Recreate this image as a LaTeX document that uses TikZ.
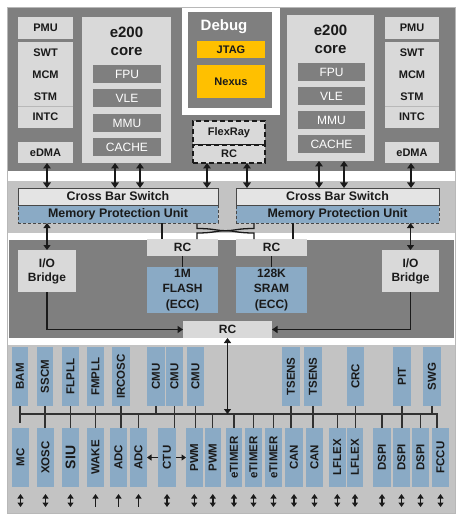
\documentclass[tikz,border=0pt]{standalone}
\usepackage{fontspec}
\setmainfont{Liberation Sans}
\usetikzlibrary{arrows.meta}
\definecolor{dk}{HTML}{7F7F7F}
\definecolor{lt}{HTML}{D9D9D9}
\definecolor{band}{HTML}{C3C3C3}
\definecolor{blu}{HTML}{8AAAC5}
\definecolor{yel}{HTML}{FFC000}
\definecolor{ink}{HTML}{1A1A1A}
\definecolor{frm}{HTML}{B8B8B8}
\tikzset{
 bxbase/.style={inner sep=0pt, outer sep=0pt, align=center, text=ink, font=\bfseries\fontsize{11}{13}\selectfont},
 lbox/.style={bxbase, fill=lt},
 dbox/.style={bxbase, fill=dk, text=white, font=\fontsize{12}{13}\selectfont},
 ybox/.style={bxbase, fill=yel},
 bbox/.style={bxbase, fill=blu},
 memtxt/.style={font=\bfseries\fontsize{12}{15.5}\selectfont},
 iotxt/.style={font=\bfseries\fontsize{12}{14}\selectfont},
 xbox/.style={bxbase, fill=lt!70!white, draw=ink!80, line width=0.8pt, font=\bfseries\fontsize{12.4}{14}\selectfont},
 mpubox/.style={bxbase, fill=blu, draw=ink!80, line width=0.8pt, dash pattern=on 3pt off 2pt, font=\bfseries\fontsize{12.4}{14}\selectfont},
 fxbox/.style={bxbase, fill=lt, draw=ink, line width=1.5pt, dash pattern=on 5pt off 3pt},
 txt/.style={bxbase},
 vtxt/.style={inner sep=0pt, rotate=90, text=ink, font=\bfseries\fontsize{11.5}{13}\selectfont},
 bigarr/.style={draw=ink, line width=2pt, {Triangle[width=7.5pt,length=5.5pt]}-{Triangle[width=7.5pt,length=5.5pt]}},
 midarr/.style={draw=ink, line width=1.7pt, {Triangle[width=7pt,length=5pt]}-{Triangle[width=7pt,length=5pt]}},
 ln/.style={draw=ink, line width=1.3pt},
 arrw/.style={draw=ink, line width=1.4pt, -{Triangle[width=7pt,length=5.5pt]}},
 smarr/.style={draw=ink, line width=1.3pt, -{Triangle[width=6pt,length=4.5pt]}},
 vtick/.style={draw=ink!90, line width=1.3pt},
 busln/.style={draw=ink!90, line width=1.8pt},
 ioarr/.style={draw=ink, line width=1.5pt, >={Triangle[width=6pt,length=4.5pt]}},
}
% \bx{style}{name}{x1}{y1}{x2}{y2}{text}
\newcommand{\bx}[7]{\node[#1, minimum width=#5-#3, minimum height=#6-#4] (#2) at ({(#3+#5)/2},{(#4+#6)/2}) {#7};}
\newcommand{\topbox}[4]{\bx{bbox}{#1}{#2}{347}{#3}{406}{}
  \node[vtxt] (#1-t) at (#1.center) {#4};}
\newcommand{\botbox}[5]{\bx{bbox}{#1}{#2}{428}{#3}{487}{}
  \node[vtxt,#5] (#1-t) at (#1.center) {#4};}
\newcommand{\ioboth}[1]{\coordinate (#1-a) at ([yshift=-7pt]#1.south);
  \coordinate (#1-b) at ([yshift=-20pt]#1.south);
  \draw[ioarr,<->] (#1-a) -- (#1-b);}
\newcommand{\ioup}[1]{\coordinate (#1-a) at ([yshift=-7pt]#1.south);
  \coordinate (#1-b) at ([yshift=-20pt]#1.south);
  \draw[ioarr,<-] (#1-a) -- (#1-b);}
\newcommand{\thrubus}[2]{\draw[vtick] (#1.south) -- (#1.south |- #2.north);}
\newcommand{\upbus}[1]{\draw[vtick] (#1.south) -- (#1.south |- busL);}
\newcommand{\dnbus}[1]{\draw[vtick] (#1.north) -- (#1.north |- busL);}
\begin{document}
\begin{tikzpicture}[x=1pt,y=-1pt]
\useasboundingbox (0,0) rectangle (465,521);
\fill[white] (0,0) rectangle (465,521);
% bands
\fill[dk] (7,7) rectangle (455,171);
\fill[white] (182,6) rectangle (280,115);
\fill[band] (7,181) rectangle (455,233);
\fill[dk] (9,240) rectangle (454,338);
\fill[band] (7,345) rectangle (455,513);
\draw[frm, line width=0.8pt] (7,7) rectangle (455,513);

% Debug
\bx{bxbase, fill=dk}{debug}{188}{12}{272}{108}{}
\node[bxbase, text=white, font=\bfseries\fontsize{15}{17}\selectfont] (debugT) at (224,27) {Debug};
\bx{ybox}{jtag}{197}{41}{265}{58}{JTAG}
\bx{ybox}{nexus}{197}{65}{265}{98}{Nexus}

% FlexRay
\bx{fxbox}{flex}{193}{121}{265}{145}{FlexRay}
\bx{fxbox}{rcF}{193}{145}{265}{163}{RC}

% left column
\bx{lbox}{pmuL}{18}{17}{73}{39}{PMU}
\bx{lbox}{grpL}{18}{42}{73}{128}{}
\draw[draw=lt!85!black, line width=0.6pt] (grpL.west |- 0,106) -- (grpL.east |- 0,106);
\node[txt] (swtL) at (45.5,53) {SWT};
\node[txt] (mcmL) at (45.5,75) {MCM};
\node[txt] (stmL) at (45.5,97) {STM};
\node[txt] (intcL) at (45.5,117) {INTC};
\bx{lbox}{edmaL}{18}{142}{73}{163}{eDMA}

\bx{lbox}{coreL}{82}{17}{171}{163}{}
\node[txt, font=\bfseries\fontsize{15}{18}\selectfont] (coreLt) at (126.5,41) {e200\\core};
\bx{dbox}{fpuL}{93}{65}{161}{83}{FPU}
\bx{dbox}{vleL}{93}{89}{161}{107}{VLE}
\bx{dbox}{mmuL}{93}{114}{161}{132}{MMU}
\bx{dbox}{cacheL}{93}{138}{161}{156}{CACHE}

% right column
\bx{lbox}{coreR}{287}{15}{374}{161}{}
\node[txt, font=\bfseries\fontsize{15}{18}\selectfont] (coreRt) at (330.5,39) {e200\\core};
\bx{dbox}{fpuR}{298}{63}{365}{81}{FPU}
\bx{dbox}{vleR}{298}{87}{365}{105}{VLE}
\bx{dbox}{mmuR}{298}{111}{365}{129}{MMU}
\bx{dbox}{cacheR}{298}{135}{365}{153}{CACHE}

\bx{lbox}{pmuR}{385}{17}{439}{39}{PMU}
\bx{lbox}{grpR}{385}{42}{439}{128}{}
\draw[draw=lt!85!black, line width=0.6pt] (grpR.west |- 0,106) -- (grpR.east |- 0,106);
\node[txt] (swtR) at (412,53) {SWT};
\node[txt] (mcmR) at (412,75) {MCM};
\node[txt] (stmR) at (412,97) {STM};
\node[txt] (intcR) at (412,117) {INTC};
\bx{lbox}{edmaR}{385}{142}{439}{163}{eDMA}

% crossbars
\bx{mpubox}{mpuL}{18}{205}{218}{223}{Memory Protection Unit}
\bx{xbox}{xbarL}{18}{188}{218}{205}{Cross Bar Switch}
\bx{mpubox}{mpuR}{236}{205}{439}{223}{Memory Protection Unit}
\bx{xbox}{xbarR}{236}{188}{439}{205}{Cross Bar Switch}

% top arrows
\draw[bigarr] (edmaL.south -| 47,0) -- (xbarL.north -| 47,0);
\draw[bigarr] (coreL.south -| 115,0) -- (xbarL.north -| 115,0);
\draw[bigarr] (coreL.south -| 140,0) -- (xbarL.north -| 140,0);
\draw[bigarr] (rcF.south -| 207,0) -- (xbarL.north -| 207,0);
\draw[bigarr] (rcF.south -| 247,0) -- (xbarR.north -| 247,0);
\draw[bigarr] (coreR.south -| 319,0) -- (xbarR.north -| 319,0);
\draw[bigarr] (coreR.south -| 344,0) -- (xbarR.north -| 344,0);
\draw[bigarr] (edmaR.south -| 411,0) -- (xbarR.north -| 411,0);

% memory area
\bx{lbox, memtxt}{rcL}{147}{239}{218}{256}{RC}
\bx{bbox, memtxt}{flash}{147}{267}{218}{313}{1M\\FLASH\\(ECC)}
\bx{lbox, memtxt}{rcR}{236}{239}{307}{256}{RC}
\bx{bbox, memtxt}{sram}{236}{267}{307}{313}{128K\\SRAM\\(ECC)}
\bx{lbox, iotxt}{ioL}{18}{250}{76}{292}{I/O\\Bridge}
\bx{lbox, iotxt}{ioR}{382}{250}{439}{292}{I/O\\Bridge}
\bx{lbox, memtxt}{rcB}{183}{321}{272}{338}{RC}

\draw[ln] (mpuL.south -| 162,0) -- (rcL.north -| 162,0);
\draw[ln] (rcL.south) -- (flash.north);
\draw[ln] (mpuR.south -| 293,0) -- (rcR.north -| 293,0);
\draw[ln] (rcR.south) -- (sram.north);
\draw[ln] (mpuL.south -| 197,0) -- (197,228.5) .. controls (214,228.5) and (216,230.7) .. (225.5,230.7) .. controls (235,230.7) and (237,233) .. (254,233) -- (rcR.north -| 254,0);
\draw[ln] (mpuR.south -| 254,0) -- (254,228.5) .. controls (237,228.5) and (235,230.7) .. (225.5,230.7) .. controls (216,230.7) and (214,233) .. (197,233) -- (rcL.north -| 197,0);

\draw[midarr] (mpuL.south -| ioL.north) -- (ioL.north);
\draw[midarr] (mpuR.south -| ioR.north) -- (ioR.north);
\draw[arrw] (ioL.south) -- (ioL.south |- rcB.west) -- (rcB.west);
\draw[arrw] (ioR.south) -- (ioR.south |- rcB.east) -- (rcB.east);

% peripheral band
\topbox{bam}{12}{28}{BAM}
\topbox{sscm}{37}{53}{SSCM}
\topbox{flpll}{62}{79}{FLPLL}
\topbox{fmpll}{87}{104}{FMPLL}
\topbox{ircosc}{112}{130}{IRCOSC}
\topbox{cmuA}{147}{165}{CMU}
\topbox{cmuB}{166}{183}{CMU}
\topbox{cmuC}{187}{204}{CMU}
\topbox{tsA}{282}{300}{TSENS}
\topbox{tsB}{304}{322}{TSENS}
\topbox{crc}{347}{364}{CRC}
\topbox{pit}{393}{411}{PIT}
\topbox{swg}{423}{441}{SWG}

\botbox{mc}{12}{29}{MC}{}
\botbox{xosc}{37}{54}{XOSC}{}
\botbox{siu}{62}{79}{SIU}{font=\bfseries\fontsize{14}{16}\selectfont}
\botbox{wake}{87}{104}{WAKE}{}
\botbox{adcA}{110}{127}{ADC}{}
\botbox{adcB}{130}{147}{ADC}{}
\botbox{ctu}{158}{176}{CTU}{}
\botbox{pwmA}{186}{202.5}{PWM}{}
\botbox{pwmB}{204.5}{221}{PWM}{}
\botbox{etA}{226}{242}{eTIMER}{}
\botbox{etB}{245}{262}{eTIMER}{}
\botbox{etC}{265}{282}{eTIMER}{}
\botbox{canA}{285}{303}{CAN}{}
\botbox{canB}{306}{323}{CAN}{}
\botbox{lfA}{329}{345.5}{LFLEX}{}
\botbox{lfB}{347}{363}{LFLEX}{}
\botbox{dsA}{373}{391}{DSPI}{}
\botbox{dsB}{393}{410}{DSPI}{}
\botbox{dsC}{412}{429}{DSPI}{}
\botbox{fccu}{432}{449}{FCCU}{}

\coordinate (busL) at (20,414);
\coordinate (busR) at (437,414);
\coordinate (bamEnd) at (20,423);
\draw[vtick] (bam.south) -- (bamEnd);
\thrubus{sscm}{xosc}
\thrubus{flpll}{siu}
\thrubus{fmpll}{wake}
\thrubus{ircosc}{adcA}
\thrubus{cmuB}{ctu}
\thrubus{cmuC}{pwmA}
\thrubus{tsA}{canA}
\thrubus{tsB}{canB}
\thrubus{crc}{lfB}
\thrubus{pit}{dsB}
\upbus{cmuA}
\upbus{swg}
\dnbus{adcB}
\dnbus{pwmB}
\dnbus{etA}
\dnbus{etB}
\dnbus{etC}
\dnbus{lfA}
\dnbus{dsA}
\dnbus{dsC}
\draw[busln] (busL) -- (busR) -- (busR |- fccu.north);

\draw[midarr] (rcB.south) -- (rcB.south |- busL);
\draw[smarr] (ctu.west) -- (adcB.east);
\draw[smarr] (ctu.east) -- (pwmA.west);

\ioboth{mc}
\ioboth{xosc}
\ioboth{siu}
\ioup{wake}
\ioup{adcA}
\ioup{adcB}
\ioboth{ctu}
\ioboth{pwmA}
\ioboth{pwmB}
\ioboth{etA}
\ioboth{etB}
\ioboth{etC}
\ioboth{canA}
\ioboth{canB}
\ioboth{lfA}
\ioboth{lfB}
\ioboth{dsA}
\ioboth{dsB}
\ioboth{dsC}
\ioboth{fccu}
\end{tikzpicture}
\end{document}
